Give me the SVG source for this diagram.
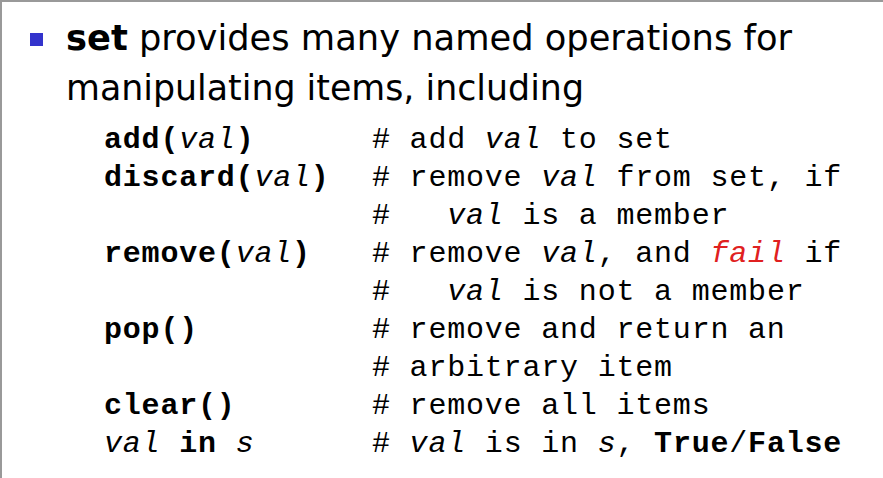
<svg xmlns="http://www.w3.org/2000/svg" width="883" height="478" viewBox="0 0 883 478">
<style>
.h{font-family:"DejaVu Sans","Liberation Sans",Arial,sans-serif;font-size:36px;fill:#000}
.m{font-family:"Liberation Mono","Courier New",monospace;font-size:30px;letter-spacing:0.8px;fill:#000;white-space:pre}
.b{font-weight:bold}
.i{font-style:italic}
.r{fill:#e02020}
</style>
<rect width="883" height="478" fill="#fff"/>
<line x1="0" y1="1" x2="883" y2="1" stroke="#999" stroke-width="2"/>
<line x1="1" y1="0" x2="1" y2="478" stroke="#999" stroke-width="2"/>
<g id="header">
<rect x="30" y="33" width="13" height="13" fill="#3333cc"/>
<text class="h" x="66" y="50" textLength="726" lengthAdjust="spacingAndGlyphs"><tspan font-weight="bold">set</tspan> provides many named operations for</text>
<text class="h" x="66" y="100" textLength="518" lengthAdjust="spacingAndGlyphs">manipulating items, including</text>
</g>
<g id="ops">
<text class="m" x="104" y="148"><tspan class="b">add(</tspan><tspan class="i">val</tspan><tspan class="b">)</tspan></text>
<text class="m" x="372" y="148"># add <tspan class="i">val</tspan> to set</text>
<text class="m" x="104" y="186"><tspan class="b">discard(</tspan><tspan class="i">val</tspan><tspan class="b">)</tspan></text>
<text class="m" x="372" y="186"># remove <tspan class="i">val</tspan> from set, if</text>
<text class="m" x="372" y="224">#   <tspan class="i">val</tspan> is a member</text>
<text class="m" x="104" y="262"><tspan class="b">remove(</tspan><tspan class="i">val</tspan><tspan class="b">)</tspan></text>
<text class="m" x="372" y="262"># remove <tspan class="i">val</tspan>, and <tspan class="i r">fail</tspan> if</text>
<text class="m" x="372" y="300">#   <tspan class="i">val</tspan> is not a member</text>
<text class="m b" x="104" y="338">pop()</text>
<text class="m" x="372" y="338"># remove and return an</text>
<text class="m" x="372" y="376"># arbitrary item</text>
<text class="m b" x="104" y="414">clear()</text>
<text class="m" x="372" y="414"># remove all items</text>
<text class="m" x="104" y="452"><tspan class="i">val</tspan> <tspan class="b">in</tspan> <tspan class="i">s</tspan></text>
<text class="m" x="372" y="452"># <tspan class="i">val</tspan> is in <tspan class="i">s</tspan>, <tspan class="b">True</tspan>/<tspan class="b">False</tspan></text>
</g>
</svg>
